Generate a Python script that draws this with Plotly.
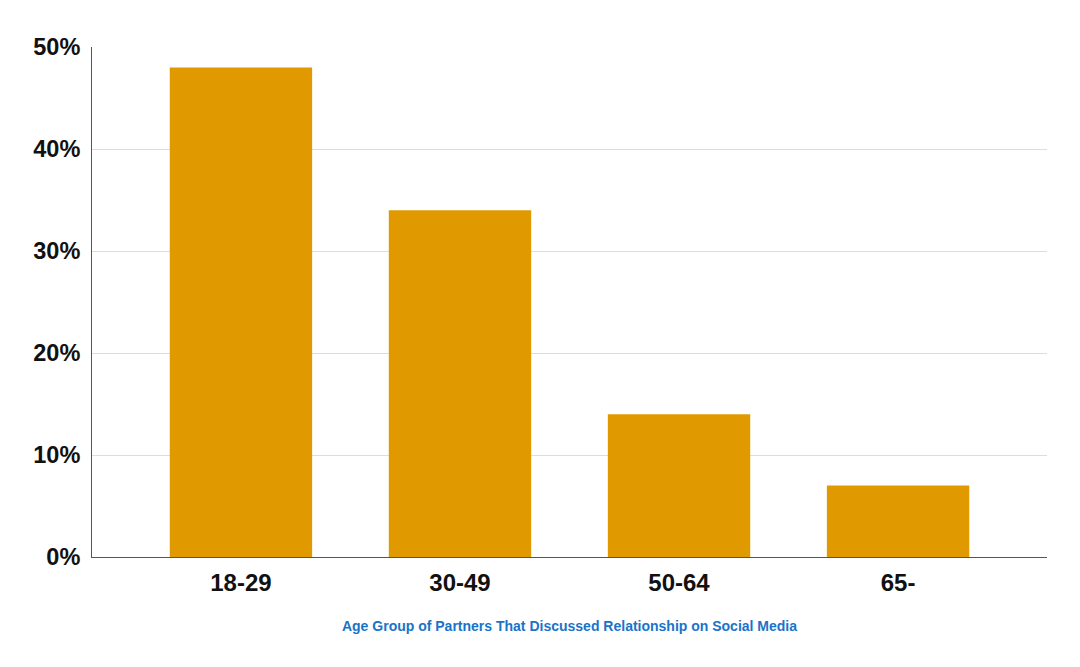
import plotly.graph_objects as go

categories = ["18-29", "30-49", "50-64", "65-"]
values = [0.48, 0.34, 0.14, 0.07]
y_ticks = [0, 0.1, 0.2, 0.3, 0.4, 0.5]
y_tick_labels = ["0%", "10%", "20%", "30%", "40%", "50%"]

FONT = "Liberation Sans, Arial, sans-serif"

fig = go.Figure(
    go.Bar(
        x=categories,
        y=values,
        marker=dict(color="#E09A00", line=dict(width=0)),
        width=0.65,
    )
)

# page body has an 8px default margin; compensate
fig.update_layout(
    width=1072,
    height=659,
    margin=dict(l=84, r=33, t=39, b=110),
    plot_bgcolor="white",
    paper_bgcolor="white",
    showlegend=False,
    font=dict(family=FONT),
)

fig.update_xaxes(
    range=[-0.68, 3.68],
    showgrid=False,
    showline=True,
    linecolor="#555555",
    linewidth=1,
    ticks="",
    ticklabelstandoff=4,
    tickfont=dict(size=24, color="#111111", family=FONT, weight="bold"),
    title=dict(
        text="Age Group of Partners That Discussed Relationship on Social Media",
        font=dict(size=14, color="#1a73c9", family=FONT, weight="bold"),
        standoff=26,
    ),
)

fig.update_yaxes(
    range=[0, 0.5],
    tickvals=y_ticks,
    ticktext=y_tick_labels,
    showgrid=True,
    gridcolor="#dddddd",
    gridwidth=1,
    showline=True,
    linecolor="#555555",
    linewidth=1,
    zeroline=False,
    ticks="",
    ticklabelstandoff=6,
    tickfont=dict(size=23.5, color="#111111", family=FONT, weight="bold"),
)

fig.write_html("out.html")
